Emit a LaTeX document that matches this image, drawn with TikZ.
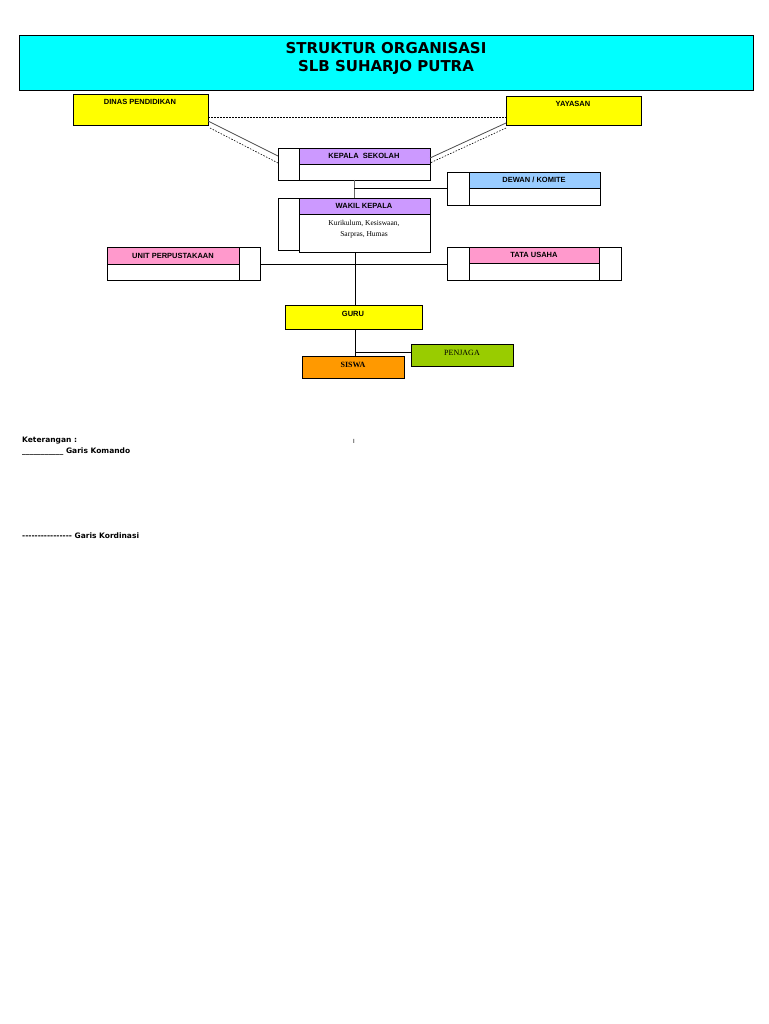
\documentclass[tikz,border=0pt]{standalone}
\usepackage{fontspec}
\setmainfont{Liberation Serif}
\setsansfont{Liberation Sans}
\newfontfamily\dejavu{DejaVu Sans}
\definecolor{cyanbg}{HTML}{00FFFF}
\definecolor{yel}{HTML}{FFFF00}
\definecolor{purp}{HTML}{CC99FF}
\definecolor{lblue}{HTML}{99CCFF}
\definecolor{pinkh}{HTML}{FF99CC}
\definecolor{orng}{HTML}{FF9900}
\definecolor{grn}{HTML}{99CC00}
\tikzset{
 bx/.style={draw,line width=0.8pt},
 lbl/.style={font=\sffamily\bfseries\fontsize{7.5}{9}\selectfont},
 ln/.style={line width=0.8pt},
 dl/.style={line width=0.6pt,dash pattern=on 1.5pt off 1.5pt},
}
\begin{document}
\begin{tikzpicture}[x=1pt,y=-1pt]
\useasboundingbox (0,0) rectangle (768,1024);
% title
\draw[bx,fill=cyanbg] (19,35) rectangle (753,90);
\node[font=\dejavu\bfseries\fontsize{15}{18}\selectfont,align=center] (title) at (386,58) {STRUKTUR ORGANISASI\\SLB SUHARJO PUTRA};
% dinas, yayasan
\draw[bx,fill=yel] (73,94) rectangle (208,125);
\node[lbl] (dinas) at (140,102) {DINAS PENDIDIKAN};
\draw[bx,fill=yel] (506,96) rectangle (641,125);
\node[lbl] (yayasan) at (573,104) {YAYASAN};
\coordinate (d1) at (208,117); \coordinate (y1) at (506,117);
\draw[dl] (d1) -- (y1);
% kepala
\draw[bx] (278,148) rectangle (430,180);
\draw[bx,fill=purp] (299,148) rectangle (430,164);
\draw[bx] (299,164) -- (299,180);
\node[lbl] (kepala) at (364,156) {KEPALA\ \ SEKOLAH};
\coordinate (da) at (208,121); \coordinate (ka) at (278,156);
\coordinate (db) at (210,128); \coordinate (kb) at (278,163);
\coordinate (ya) at (506,123); \coordinate (kc) at (430,158);
\coordinate (yb) at (506,128); \coordinate (kd) at (430,163);
\draw[ln,black!70] (da) -- (ka); \draw[dl] (db) -- (kb);
\draw[ln,black!70] (ya) -- (kc); \draw[dl] (yb) -- (kd);
% dewan
\draw[bx] (447,172) rectangle (600,205);
\draw[bx,fill=lblue] (469,172) rectangle (600,188);
\draw[bx] (469,188) -- (469,205);
\node[lbl] (dewan) at (534,180) {DEWAN / KOMITE};
% wakil
\draw[bx] (278,198) rectangle (299,250);
\draw[bx] (299,198) rectangle (430,252);
\draw[bx,fill=purp] (299,198) rectangle (430,214);
\node[lbl] (wakil) at (364,206) {WAKIL KEPALA};
\node[font=\fontsize{7.5}{10.5}\selectfont,align=center] (wtext) at (364,229) {Kurikulum, Kesiswaan,\\Sarpras, Humas};
\coordinate (k1) at (354,180); \coordinate (w1) at (354,198); \coordinate (j1) at (354,188); \coordinate (dw) at (447,188);
\draw[ln,black!60] (k1) -- (w1);
\draw[ln] (j1) -- (dw);
% unit perpustakaan
\draw[bx] (107,247) rectangle (260,280);
\draw[bx,fill=pinkh] (107,247) rectangle (239,264);
\draw[bx] (239,247) -- (239,280);
\node[lbl] (unit) at (173,256) {UNIT PERPUSTAKAAN};
% tata usaha
\draw[bx] (447,247) rectangle (621,280);
\draw[bx,fill=pinkh] (469,247) rectangle (599,263);
\draw[bx] (469,263) -- (469,280); \draw[bx] (599,263) -- (599,280);
\node[lbl] (tu) at (534,255) {TATA USAHA};
\coordinate (u1) at (260,264); \coordinate (t1) at (447,264);
\draw[ln] (u1) -- (t1);
% guru
\draw[bx,fill=yel] (285,305) rectangle (422,329);
\node[lbl] (guru) at (353,314) {GURU};
\coordinate (w2) at (355,252); \coordinate (g1) at (355,305);
\draw[ln] (w2) -- (g1);
% siswa, penjaga
\draw[bx,fill=orng] (302,356) rectangle (404,378);
\node[font=\bfseries\fontsize{8}{9}\selectfont] (siswa) at (353,365) {SISWA};
\draw[bx,fill=grn] (411,344) rectangle (513,366);
\node[font=\fontsize{8}{9}\selectfont] (penjaga) at (462,353) {PENJAGA};
\coordinate (g2) at (355,329); \coordinate (s1) at (355,356); \coordinate (j2) at (355,352); \coordinate (p1) at (411,352);
\draw[ln] (g2) -- (s1);
\draw[ln] (j2) -- (p1);
\node[font=\sffamily\fontsize{6}{7}\selectfont] (bar) at (354,441) {I};
% keterangan
\node[font=\dejavu\bfseries\fontsize{7.5}{11}\selectfont,anchor=north west,align=left,inner sep=0] (ket) at (22,437) {Keterangan :\\\_\_\_\_\_\_\_\_\_\_\_ Garis Komando};
\node[font=\dejavu\bfseries\fontsize{7.5}{11}\selectfont,anchor=north west,inner sep=0] (kord) at (22,533) {---------------- Garis Kordinasi};
\end{tikzpicture}
\end{document}
